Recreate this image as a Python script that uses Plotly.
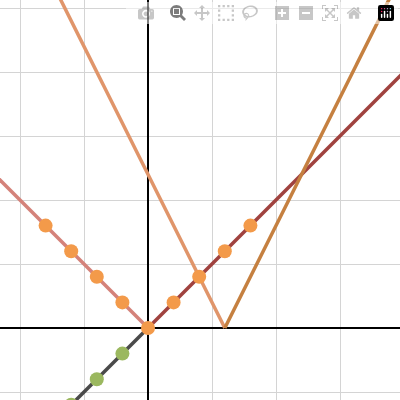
import plotly.graph_objects as go

# data
x_left = [-2.4, 0]
x_right = [0, 4.0]
v_vertex = 1.2
v_x = [-2.4, 1.2, 4.0]
pts_x = [-1.6, -1.2, -0.8, -0.4, 0, 0.4, 0.8, 1.2, 1.6]
green_x = [-0.4, -0.8, -1.2, -1.6]

fig = go.Figure()
fig.add_trace(go.Scatter(x=x_left, y=[-v for v in x_left], mode="lines", line=dict(color="#d4827a", width=3.5)))
fig.add_trace(go.Scatter(x=[-2.4, 0], y=[-2.4, 0], mode="lines", line=dict(color="#4a4a4a", width=3.5)))
fig.add_trace(go.Scatter(x=x_right, y=x_right, mode="lines", line=dict(color="#a0423f", width=3.5)))
fig.add_trace(go.Scatter(x=[v_x[0], v_vertex], y=[2*abs(v_x[0]-v_vertex), 0], mode="lines", line=dict(color="#e0956a", width=3.5)))
fig.add_trace(go.Scatter(x=[v_vertex, v_x[2]], y=[0, 2*abs(v_x[2]-v_vertex)], mode="lines", line=dict(color="#c58040", width=3.5)))
fig.add_trace(go.Scatter(x=pts_x, y=[abs(v) for v in pts_x], mode="markers", marker=dict(color="#f39a4a", size=14)))
fig.add_trace(go.Scatter(x=green_x, y=green_x, mode="markers", marker=dict(color="#9bb85f", size=14)))

ax = dict(showgrid=True, gridcolor="#d4d4d4", gridwidth=1, zeroline=True, zerolinecolor="black",
          zerolinewidth=1.5, showticklabels=False, dtick=1, ticks="")
fig.update_layout(width=400, height=400, margin=dict(l=0, r=0, t=0, b=0), showlegend=False,
                  plot_bgcolor="white", paper_bgcolor="white",
                  xaxis=dict(ax, range=[-2.3125, 3.9375]),
                  yaxis=dict(ax, range=[-1.125, 5.125]))
fig.write_html("out.html", post_script="document.body.style.margin='0';document.body.style.overflow='hidden';")
